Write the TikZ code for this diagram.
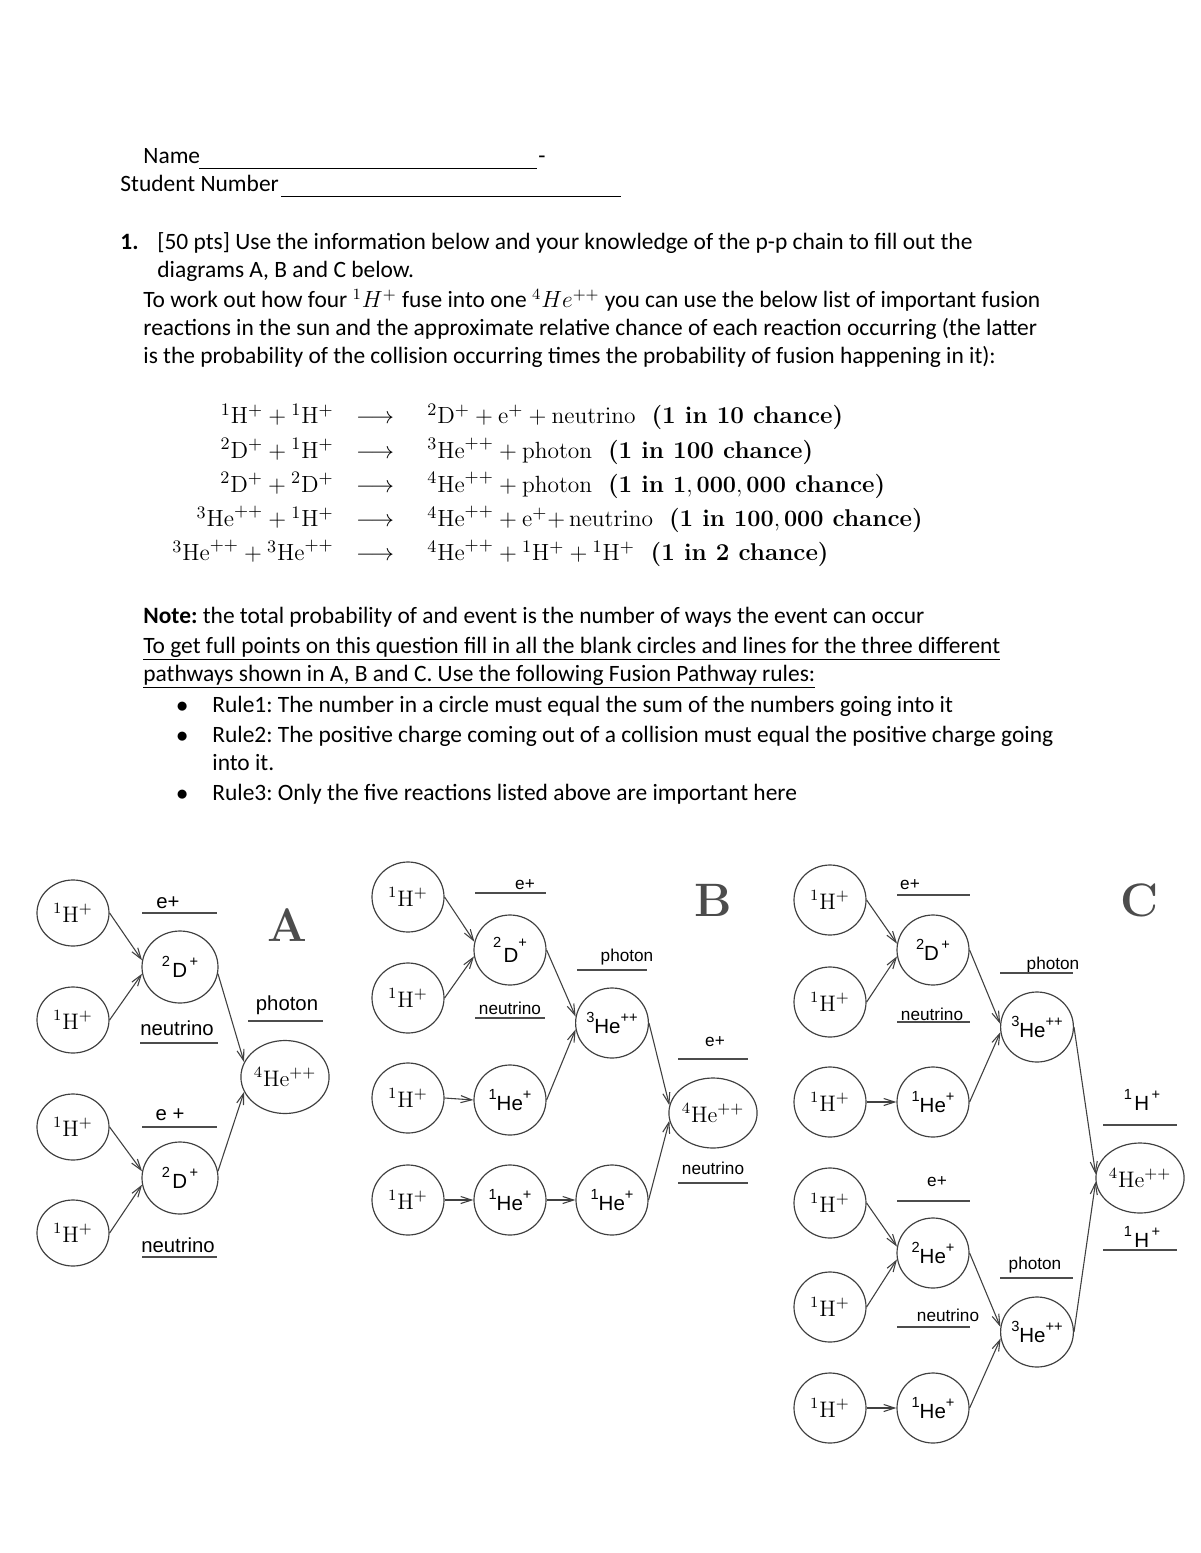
\documentclass[tikz,border=0pt]{standalone}
\usepackage[no-math]{fontspec}
\newfontfamily\calfont{Carlito}
\setsansfont{Liberation Sans}
\usetikzlibrary{arrows.meta,shapes.geometric}
\frenchspacing

\newlength\pxu
\setlength\pxu{0.51bp}

% labels inside the circles
\newcommand\hyd{$^{1}$H$^{+}$}
\newcommand\hel{$^{4}$He$^{++}$}
\newcommand\iso[3]{{\sffamily\fontsize{10.5}{12}\selectfont
  \raisebox{5.5bp}{\fontsize{7.5}{8}\selectfont#1}#2\raisebox{5.5bp}{\fontsize{7.5}{8}\selectfont#3}}}

\begin{document}
\begin{tikzpicture}[
    x=0.51bp, y=-0.51bp,
    nuc/.style={ellipse, draw=black!75, line width=0.6bp, minimum width=72\pxu,
      minimum height=70\pxu, inner sep=0pt, font=\rmfamily\fontsize{11.5}{12}\selectfont},
    arr/.style={->, draw=black!75, line width=0.55bp,
      >={Straight Barb[length=5.6bp,width=3.6bp]}},
    blank/.style={draw=black!70, line width=0.9bp},
    tag/.style={inner sep=0pt, font=\sffamily\fontsize{8.8}{10}\selectfont},
    tagA/.style={inner sep=0pt, font=\sffamily\fontsize{10.4}{12}\selectfont},
    txt/.style={anchor=base west, inner sep=0pt, font=\calfont\fontsize{12}{14}\selectfont},
    panel/.style={inner sep=0pt, text=black!70, font=\rmfamily\bfseries\fontsize{24}{24}\selectfont},
  ]
  \useasboundingbox[fill=white] (0,0) rectangle (1200,1553);

  % header and question
  \node[txt] (name) at (143,164) {Name};
  \draw[line width=0.5bp] (199,168) -- (537,168);
  \node[txt] (dash) at (538,164) {-};
  \node[txt] (stud) at (120,192) {Student Number};
  \draw[line width=0.5bp] (281,196) -- (621,196);

  \node[txt] (qnum) at (120,250) {\textbf{1.}};
  \node[txt] (q1) at (157,250) {[50 pts] Use the information below and your knowledge of the p-p chain to fill out the};
  \node[txt] (q2) at (157,278) {diagrams A, B and C below.};
  \node[txt] (q3) at (143,308) {To work out how four $^{1}H^{+}$ fuse into one $^{4}He^{++}$ you can use the below list of important fusion};
  \node[txt] (q4) at (143,336) {reactions in the sun and the approximate relative chance of each reaction occurring (the latter};
  \node[txt] (q5) at (143,364) {is the probability of the collision occurring times the probability of fusion happening in it):};

  % reactions
  \node[anchor=base west, inner sep=0pt, font=\rmfamily\fontsize{12.4}{17.5}\selectfont] (rxn) at (172,424) {%
    \begin{tabular}[t]{@{}r@{\hspace{11.5bp}}c@{\hspace{17bp}}l@{}}
      $^{1}\mathrm{H}^{+} + {}^{1}\mathrm{H}^{+}$ & $\longrightarrow$ &
        ${}^{2}\mathrm{D}^{+} + \mathrm{e}^{+} + \mathrm{neutrino}$\ \ \textbf{(1 in 10 chance)}\\
      $^{2}\mathrm{D}^{+} + {}^{1}\mathrm{H}^{+}$ & $\longrightarrow$ &
        ${}^{3}\mathrm{He}^{++} + \mathrm{photon}$\ \ \textbf{(1 in 100 chance)}\\
      $^{2}\mathrm{D}^{+} + {}^{2}\mathrm{D}^{+}$ & $\longrightarrow$ &
        ${}^{4}\mathrm{He}^{++} + \mathrm{photon}$\ \ \textbf{(1 in $\mathbf{1,000,000}$ chance)}\\
      $^{3}\mathrm{He}^{++} + {}^{1}\mathrm{H}^{+}$ & $\longrightarrow$ &
        ${}^{4}\mathrm{He}^{++} + \mathrm{e}^{+}{+}\,\mathrm{neutrino}$\ \ \textbf{(1 in $\mathbf{100,000}$ chance)}\\
      $^{3}\mathrm{He}^{++} + {}^{3}\mathrm{He}^{++}$ & $\longrightarrow$ &
        ${}^{4}\mathrm{He}^{++} + {}^{1}\mathrm{H}^{+} + {}^{1}\mathrm{H}^{+}$\ \ \textbf{(1 in 2 chance)}
    \end{tabular}};

  % notes and rules
  \node[txt] (note) at (143,623) {\textbf{Note:} the total probability of and event is the number of ways the event can occur};
  \node[txt] (full1) at (143,653) {\underline{To get full points on this question fill in all the blank circles and lines for the three different}};
  \node[txt] (full2) at (143,681) {\underline{pathways shown in A, B and C. Use the following Fusion Pathway rules:}};
  \node[txt] (b1) at (176,712) {$\bullet$};
  \node[txt] (r1) at (212,712) {Rule1: The number in a circle must equal the sum of the numbers going into it};
  \node[txt] (b2) at (176,742) {$\bullet$};
  \node[txt] (r2) at (212,742) {Rule2: The positive charge coming out of a collision must equal the positive charge going};
  \node[txt] (r2b) at (212,770) {into it.};
  \node[txt] (b3) at (176,800) {$\bullet$};
  \node[txt] (r3) at (212,800) {Rule3: Only the five reactions listed above are important here};

  % diagram A
  \node[nuc, minimum height=66\pxu] (aH1) at (73,913) {\hyd};
  \node[nuc, minimum height=66\pxu] (aH2) at (73,1020) {\hyd};
  \node[nuc, minimum height=66\pxu] (aH3) at (73,1127) {\hyd};
  \node[nuc, minimum height=66\pxu] (aH4) at (73,1233) {\hyd};
  \node[nuc, minimum width=76\pxu, minimum height=72\pxu] (aD1) at (180,967) {\iso{2\,}{D}{\,+}};
  \node[nuc, minimum width=76\pxu, minimum height=72\pxu] (aD2) at (180,1178) {\iso{2\,}{D}{\,+}};
  \node[nuc, minimum width=73\pxu, minimum height=73\pxu] (aHe) at (285,1077) {\hel};
  \draw[arr] (aH1.east) -- (aD1.170);
  \draw[arr] (aH2.east) -- (aD1.190);
  \draw[arr] (aH3.east) -- (aD2.170);
  \draw[arr] (aH4.east) -- (aD2.190);
  \draw[arr] (aD1.-10) -- (aHe.160);
  \draw[arr] (aD2.10) -- (aHe.200);
  \node[tagA] (aE1) at (168,903) {e+};
  \draw[blank] (142,913) -- (217,913);
  \node[tagA] (aN1) at (177,1028) {neutrino};
  \draw[blank] (140,1043) -- (218,1043);
  \node[tagA] (aPh) at (287,1005) {photon};
  \draw[blank] (248,1021) -- (323,1021);
  \node[tagA] (aE2) at (170,1115) {e +};
  \draw[blank] (142,1127) -- (217,1127);
  \node[tagA] (aN2) at (178,1245) {neutrino};
  \draw[blank] (142,1257) -- (217,1257);
  \node[panel] (aTitle) at (287,925) {A};

  % diagram B
  \node[nuc] (bH1) at (408,897) {\hyd};
  \node[nuc] (bH2) at (408,998) {\hyd};
  \node[nuc] (bH3) at (408,1098) {\hyd};
  \node[nuc] (bH4) at (408,1200) {\hyd};
  \node[nuc] (bD) at (510,950) {\iso{2\,}{\raisebox{-2bp}{D}}{+}};
  \node[nuc] (bHe1a) at (510,1100) {\iso{1}{He}{+}};
  \node[nuc] (bHe1b) at (510,1200) {\iso{1}{He}{+}};
  \node[nuc] (bHe1c) at (612,1200) {\iso{1}{He}{+}};
  \node[nuc] (bHe3) at (612,1023) {\iso{3}{He}{++}};
  \node[nuc] (bHe4) at (713,1113) {\hel};
  \draw[arr] (bH1.east) -- (bD.167);
  \draw[arr] (bH2.east) -- (bD.190);
  \draw[arr] (bD.east) -- (bHe3.170);
  \draw[arr] (bHe1a.east) -- (bHe3.190);
  \draw[arr] (bH3.east) -- (bHe1a.west);
  \draw[arr] (bH4.east) -- (bHe1b.west);
  \draw[arr] (bHe1b.east) -- (bHe1c.west);
  \draw[arr] (bHe3.east) -- (bHe4.170);
  \draw[arr] (bHe1c.east) -- (bHe4.190);
  \node[tag] (bE1) at (525,885) {e+};
  \draw[blank] (475,893) -- (546,893);
  \node[tag] (bPh) at (627,957) {photon};
  \draw[blank] (577,970) -- (647,970);
  \node[tag] (bN1) at (510,1008) {neutrino};
  \draw[blank] (475,1018) -- (545,1018);
  \node[tag] (bE2) at (715,1042) {e+};
  \draw[blank] (678,1059) -- (748,1059);
  \node[tag] (bN2) at (713,1168) {neutrino};
  \draw[blank] (678,1183) -- (748,1183);
  \node[panel] (bTitle) at (713,900) {B};

  % diagram C
  \node[nuc] (cH1) at (830,900) {\hyd};
  \node[nuc] (cH2) at (830,1002) {\hyd};
  \node[nuc] (cH3) at (830,1102) {\hyd};
  \node[nuc] (cH4) at (830,1203) {\hyd};
  \node[nuc] (cH5) at (830,1307) {\hyd};
  \node[nuc] (cH6) at (830,1408) {\hyd};
  \node[nuc] (cD) at (933,950) {\iso{2}{D}{\,+}};
  \node[nuc] (cHe1a) at (933,1102) {\iso{1}{He}{+}};
  \node[nuc] (cHe2) at (933,1253) {\iso{2}{He}{+}};
  \node[nuc] (cHe1b) at (933,1408) {\iso{1}{He}{+}};
  \node[nuc] (cHe3a) at (1037,1027) {\iso{3}{He}{++}};
  \node[nuc] (cHe3b) at (1037,1332) {\iso{3}{He}{++}};
  \node[nuc] (cHe4) at (1140,1178) {\hel};
  \draw[arr] (cH1.east) -- (cD.170);
  \draw[arr] (cH2.east) -- (cD.190);
  \draw[arr] (cD.east) -- (cHe3a.175);
  \draw[arr] (cHe1a.east) -- (cHe3a.188);
  \draw[arr] (cH3.east) -- (cHe1a.west);
  \draw[arr] (cH4.east) -- (cHe2.170);
  \draw[arr] (cH5.east) -- (cHe2.190);
  \draw[arr] (cHe2.east) -- (cHe3b.172);
  \draw[arr] (cHe1b.east) -- (cHe3b.190);
  \draw[arr] (cH6.east) -- (cHe1b.west);
  \draw[arr] (cHe3a.east) -- (cHe4.175);
  \draw[arr] (cHe3b.east) -- (cHe4.185);
  \node[tag] (cE1) at (910,885) {e+};
  \draw[blank] (897,895) -- (970,895);
  \node[tag] (cPh1) at (1053,965) {photon};
  \draw[blank] (1000,973) -- (1073,973);
  \node[tag] (cN1) at (932,1014) {neutrino};
  \draw[blank] (897,1022) -- (970,1022);
  \node[tag] (cP1) at (1142,1100) {\iso{1\,}{H}{\,+}};
  \draw[blank] (1103,1125) -- (1177,1125);
  \node[tag] (cE2) at (937,1182) {e+};
  \draw[blank] (897,1201) -- (970,1201);
  \node[tag] (cP2) at (1142,1237) {\iso{1\,}{H}{\,+}};
  \draw[blank] (1103,1250) -- (1177,1250);
  \node[tag] (cPh2) at (1035,1265) {photon};
  \draw[blank] (1000,1278) -- (1073,1278);
  \node[tag] (cN2) at (948,1315) {neutrino};
  \draw[blank] (897,1327) -- (970,1327);
  \node[panel] (cTitle) at (1140,900) {C};
\end{tikzpicture}
\end{document}
